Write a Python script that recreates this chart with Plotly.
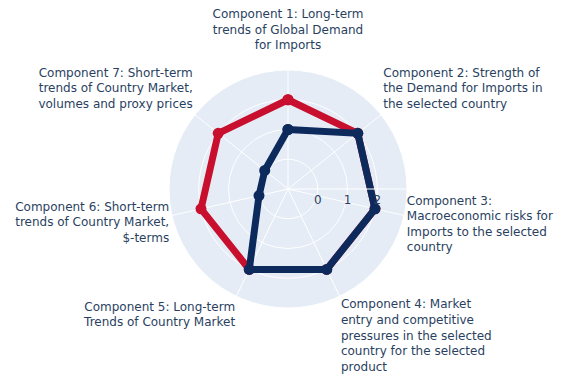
import plotly.graph_objects as go

categories = [
    "Component 1: Long-term<br>trends of Global Demand<br>for Imports",
    "Component 2: Strength of<br>the Demand for Imports in<br>the selected country",
    "Component 3:<br>Macroeconomic risks for<br>Imports to the selected<br>country",
    "Component 4: Market<br>entry and competitive<br>pressures in the selected<br>country for the selected<br>product",
    "Component 5: Long-term<br>Trends of Country Market",
    "Component 6: Short-term<br>trends of Country Market,<br>$-terms",
    "Component 7: Short-term<br>trends of Country Market,<br>volumes and proxy prices",
]
benchmark_scores = [2, 2, 2, 2, 2, 2, 2]
country_scores = [1, 2, 2, 2, 2, 0, 0]
radial_ticks = [0, 1, 2]

# blank trailing lines lift the upper labels a little
label_pad_below = [1, 1, 0, 0, 0, 0, 1]


def closed(values):
    # repeat the first point so the polygon closes
    return list(values) + [values[0]]


tick_text = [cat + "<br> " * pad for cat, pad in zip(categories, label_pad_below)]

fig = go.Figure()
fig.add_trace(go.Scatterpolar(
    r=closed(benchmark_scores),
    theta=closed(categories),
    mode="lines+markers",
    line=dict(color="#C8102E", width=7),
    marker=dict(color="#C8102E", size=11),
    name="Benchmark",
))
fig.add_trace(go.Scatterpolar(
    r=closed(country_scores),
    theta=closed(categories),
    mode="lines+markers",
    line=dict(color="#0D2A5C", width=7),
    marker=dict(color="#0D2A5C", size=11),
    name="Country",
))

fig.update_layout(
    template="plotly",
    width=565,
    height=383,
    showlegend=False,
    font=dict(family="DejaVu Sans", size=12, color="#2a3f5f"),
    margin=dict(l=74, r=79, t=62, b=83),
    polar=dict(
        radialaxis=dict(range=[-1, 3], tickvals=radial_ticks, showline=True),
        angularaxis=dict(
            direction="clockwise",
            rotation=90,
            tickmode="array",
            tickvals=categories,
            ticktext=tick_text,
        ),
    ),
)

fig.write_html("out.html")
